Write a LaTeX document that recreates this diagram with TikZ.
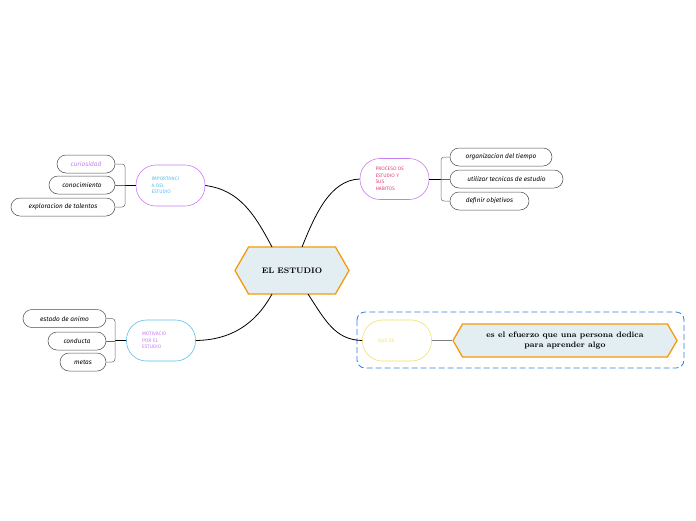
\documentclass[tikz,border=0pt]{standalone}
\usepackage{fontspec}
\setsansfont{Fira Sans}
\usetikzlibrary{shapes.symbols}
\definecolor{hexfill}{HTML}{E3EEF3}
\definecolor{orng}{HTML}{F59A0C}
\definecolor{purp}{HTML}{C77DF2}
\definecolor{cyanb}{HTML}{5BBEEA}
\definecolor{pinkt}{HTML}{E8407A}
\definecolor{yel}{HTML}{EFE26A}
\definecolor{dblue}{HTML}{2F7FE0}
\tikzset{
 x=1pt,y=-1pt,
 hexa/.style={draw=orng,line width=1.3pt,fill=hexfill,shape=signal,signal to=west and east,signal pointer angle=120,inner sep=0pt},
 topic/.style={draw,rounded corners=20pt,line width=0.6pt,minimum width=69pt,minimum height=41pt,font=\sffamily\fontsize{5}{6.5}\selectfont,align=left,text width=38pt},
 leaf/.style={draw=black!70,rounded corners=9pt,line width=0.5pt,minimum height=18pt,font=\sffamily\itshape\fontsize{6.5}{8}\selectfont,anchor=center},
 conn/.style={line width=0.8pt,black},
 brk/.style={draw=black!60,line width=0.5pt,rounded corners=3pt}
}
\begin{document}
\begin{tikzpicture}
\useasboundingbox (0,0) rectangle (696,520);
\node[hexa,minimum width=114pt,minimum height=47pt,font=\rmfamily\bfseries\fontsize{8}{10}\selectfont] (c) at (292,270.5) {EL ESTUDIO};
\node[topic,draw=purp,text=cyanb] (imp) at (170.5,185.5) {IMPORTANCI\\A DEL\\ESTUDIO};
\node[topic,draw=cyanb,text=purp] (mot) at (161,340.5) {MOTIVACIO\\POR EL\\ESTUDIO};
\node[topic,draw=purp,text=pinkt] (pro) at (394.5,179) {PROCESO DE\\ESTUDIO Y\\SUS\\HABITOS};
\draw[draw=dblue,dash pattern=on 6pt off 3pt,line width=0.8pt,rounded corners=8pt] (357,312) rectangle (684,368);
\node[topic,draw=yel,text=yel] (que) at (397,340.5) {QUE ES};
\node[hexa,minimum width=224pt,minimum height=33pt,align=center,font=\rmfamily\bfseries\fontsize{8}{10}\selectfont] (def) at (565,340.5) {es el efuerzo que una persona dedica\\para aprender algo};
\draw[conn] (272,247) .. controls (255,215) and (240,190) .. (imp.east);
\draw[conn] (272,294) .. controls (255,325) and (230,340) .. (mot.east);
\draw[conn] (302,247) .. controls (315,215) and (330,180) .. (pro.west);
\draw[conn] (308,294) .. controls (325,320) and (335,340) .. (que.west);
\draw[black!50,line width=0.6pt] (que.east) -- (def.west);
\node[leaf,minimum width=58pt,text=purp] (l1) at (86,164) {curiosidad};
\node[leaf,minimum width=66pt] (l2) at (82,185) {conocimiento};
\node[leaf,minimum width=104pt] (l3) at (63,207) {exploracion de talentos};
\draw[conn] (imp.west) -- (125,185.5);
\draw[brk] (l1.east) -| (125,185.5) |- (l3.east); \draw[brk] (l2.east) -- (125,185);
\node[leaf,minimum width=83pt] (m1) at (64.5,318.5) {estado de animo};
\node[leaf,minimum width=58pt] (m2) at (77,341) {conducta};
\node[leaf,minimum width=46pt] (m3) at (83,362) {metas};
\draw[conn] (mot.west) -- (115,340.5);
\draw[brk] (m1.east) -| (115,340.5) |- (m3.east); \draw[brk] (m2.east) -- (115,341);
\node[leaf,minimum width=102pt] (p1) at (501,157) {organizacion del tiempo};
\node[leaf,minimum width=113pt] (p2) at (506.5,179) {utilizar tecnicas de estudio};
\node[leaf,minimum width=79pt] (p3) at (489.5,201) {definir objetivos};
\draw[conn] (pro.east) -- (441,179);
\draw[brk] (p1.west) -| (441,179) |- (p3.west); \draw[brk] (p2.west) -- (441,179);
\end{tikzpicture}
\end{document}
